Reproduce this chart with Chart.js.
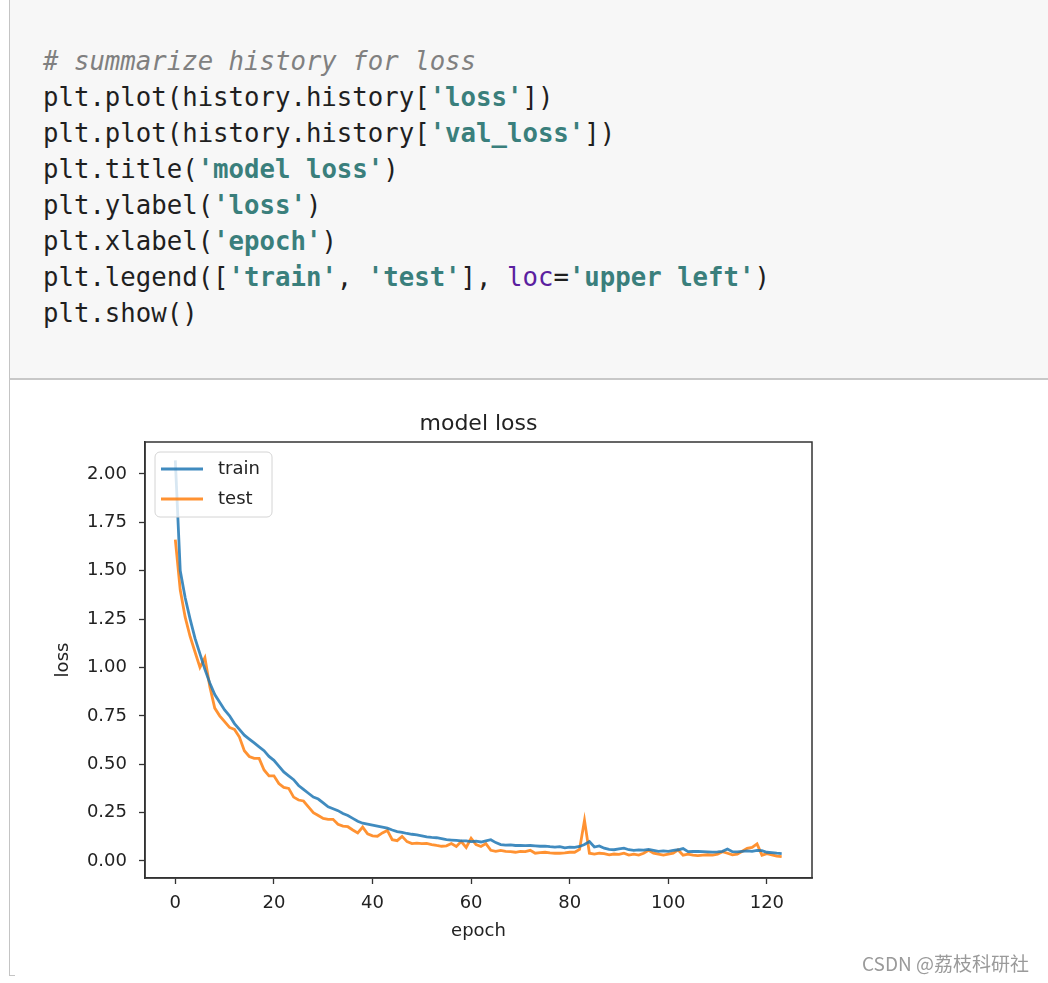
<!DOCTYPE html>
<html><head><meta charset="utf-8">
<script src="https://cdn.jsdelivr.net/npm/chart.js@4"></script>
<style>
html,body{margin:0;padding:0;background:#fff;width:1048px;height:983px;overflow:hidden;position:relative}
#code{position:absolute;left:9px;top:0;width:1039px;height:378px;background:#f7f7f7;border-left:1px solid #c4c4c4;border-bottom:2px solid #c8c8c8}
pre{margin:0;position:absolute;left:33px;top:43px;font-family:"DejaVu Sans Mono",monospace;font-size:25.7px;line-height:36px;color:#1f1f1f}
.c{color:#808080;font-style:italic}
.s{color:#3a7f7c;font-weight:bold}
.k{color:#5b1fa0}
#outline{position:absolute;left:9px;top:380px;width:1px;height:596px;background:#c4c4c4}
#tk{position:absolute;left:9px;top:975px;width:6px;height:1px;background:#c4c4c4}
#wm{position:absolute;left:862px;top:949px;font:19px "Noto Sans CJK SC",sans-serif;color:#9a9a9a;white-space:nowrap}
#wrap{position:absolute;left:0;top:395px;width:957px;height:560px}
</style></head>
<body>
<div id="code"><pre><span class="c"># summarize history for loss</span>
plt.plot(history.history[<span class="s">'loss'</span>])
plt.plot(history.history[<span class="s">'val_loss'</span>])
plt.title(<span class="s">'model loss'</span>)
plt.ylabel(<span class="s">'loss'</span>)
plt.xlabel(<span class="s">'epoch'</span>)
plt.legend([<span class="s">'train'</span>, <span class="s">'test'</span>], <span class="k">loc</span>=<span class="s">'upper left'</span>)
plt.show()</pre></div>
<div id="outline"></div><div id="tk"></div>
<div id="wrap"><canvas id="c" width="957" height="560"></canvas></div>
<div id="wm">CSDN @荔枝科研社</div>
<script>
const chartTitle = 'model loss';
const xLabel = 'epoch';
const yLabel = 'loss';
const seriesLabels = ['train', 'test'];
const xTickValues = [0, 20, 40, 60, 80, 100, 120];
const yTickValues = [0.00, 0.25, 0.50, 0.75, 1.00, 1.25, 1.50, 1.75, 2.00];

const trainLoss = [
2.07,1.50,1.36,1.25,1.15,1.07,0.99,0.92,0.86,0.82,
0.78,0.75,0.71,0.68,0.65,0.63,0.61,0.59,0.57,0.54,
0.52,0.49,0.46,0.44,0.42,0.39,0.37,0.35,0.33,0.32,
0.30,0.28,0.27,0.26,0.245,0.235,0.22,0.205,0.195,0.19,
0.185,0.18,0.175,0.17,0.16,0.152,0.148,0.142,0.138,0.135,
0.13,0.125,0.122,0.12,0.115,0.11,0.108,0.106,0.104,0.104,
0.10,0.102,0.098,0.104,0.11,0.095,0.085,0.082,0.083,0.08,
0.081,0.079,0.08,0.078,0.076,0.077,0.074,0.072,0.074,0.068,
0.072,0.07,0.075,0.085,0.10,0.072,0.078,0.066,0.06,0.058,
0.062,0.066,0.058,0.055,0.057,0.056,0.06,0.055,0.05,0.052,
0.05,0.055,0.058,0.064,0.048,0.05,0.049,0.048,0.047,0.046,
0.047,0.05,0.062,0.048,0.047,0.05,0.052,0.05,0.055,0.053,
0.045,0.043,0.04,0.038];

const testLoss = [
1.66,1.40,1.26,1.16,1.08,1.00,1.05,0.90,0.79,0.75,
0.72,0.69,0.68,0.64,0.57,0.54,0.53,0.53,0.47,0.44,
0.44,0.40,0.38,0.375,0.33,0.315,0.31,0.28,0.25,0.235,
0.22,0.215,0.215,0.19,0.18,0.177,0.16,0.145,0.175,0.14,
0.13,0.128,0.145,0.158,0.11,0.105,0.127,0.10,0.09,0.092,
0.09,0.091,0.085,0.08,0.076,0.078,0.09,0.075,0.10,0.07,
0.117,0.085,0.075,0.09,0.055,0.05,0.055,0.05,0.048,0.045,
0.05,0.048,0.055,0.04,0.043,0.045,0.042,0.04,0.04,0.042,
0.045,0.045,0.06,0.21,0.04,0.035,0.04,0.038,0.032,0.036,
0.034,0.04,0.03,0.035,0.03,0.04,0.055,0.04,0.035,0.03,
0.035,0.04,0.057,0.03,0.035,0.03,0.028,0.03,0.032,0.03,
0.035,0.048,0.04,0.032,0.035,0.05,0.065,0.07,0.088,0.03,
0.038,0.032,0.025,0.022];

const seriesColors = ['rgba(31,119,180,0.85)', 'rgba(255,127,14,0.85)'];
const FONT = 'DejaVu Sans';
const TXT = '#222222';

const framePlugin = {
  id: 'frame',
  afterDatasetsDraw(chart) {
    const {ctx, chartArea: a} = chart;
    ctx.save();
    ctx.strokeStyle = '#333333';
    ctx.lineWidth = 1.5;
    ctx.strokeRect(a.left, a.top, a.right - a.left, a.bottom - a.top);
    ctx.restore();
  }
};

const titlePlugin = {
  id: 'axTitle',
  afterDraw(chart) {
    const {ctx, chartArea: a} = chart;
    ctx.save();
    ctx.font = '22px "' + FONT + '"';
    ctx.fillStyle = TXT;
    ctx.textAlign = 'center';
    ctx.textBaseline = 'middle';
    ctx.fillText(chartTitle, (a.left + a.right) / 2, a.top - 18);
    ctx.restore();
  }
};

const legendPlugin = {
  id: 'mplLegend',
  afterDatasetsDraw(chart) {
    const {ctx, chartArea: a} = chart;
    const x0 = a.left + 10, y0 = a.top + 10, w = 117, h = 65;
    ctx.save();
    ctx.beginPath();
    ctx.roundRect(x0, y0, w, h, 5);
    ctx.fillStyle = 'rgba(255,255,255,0.8)';
    ctx.fill();
    ctx.strokeStyle = '#d4d4d4';
    ctx.lineWidth = 1;
    ctx.stroke();
    ctx.font = '18px "' + FONT + '"';
    ctx.textBaseline = 'middle';
    chart.data.datasets.forEach((ds, i) => {
      const yy = y0 + 17 + i * 30;
      ctx.beginPath();
      ctx.moveTo(x0 + 6, yy);
      ctx.lineTo(x0 + 48, yy);
      ctx.strokeStyle = ds.borderColor;
      ctx.lineWidth = 2.8;
      ctx.stroke();
      ctx.fillStyle = TXT;
      ctx.fillText(ds.label, x0 + 63, yy);
    });
    ctx.restore();
  }
};

const mk = (arr) => arr.map((v, i) => ({x: i, y: v}));

new Chart(document.getElementById('c'), {
  type: 'line',
  data: {
    datasets: [
      {label: seriesLabels[0], data: mk(trainLoss), borderColor: seriesColors[0], borderWidth: 2.8, pointRadius: 0, tension: 0, fill: false},
      {label: seriesLabels[1], data: mk(testLoss), borderColor: seriesColors[1], borderWidth: 2.8, pointRadius: 0, tension: 0, fill: false}
    ]
  },
  options: {
    responsive: false,
    animation: false,
    layout: {padding: {left: 0, right: 145, top: 47, bottom: 0}},
    plugins: {
      legend: {display: false},
      tooltip: {enabled: false},
      title: {display: false}
    },
    scales: {
      x: {
        type: 'linear', min: -6.15, max: 129.15,
        afterBuildTicks: s => { s.ticks = xTickValues.map(v => ({value: v})); },
        afterFit: s => { s.height = 77; },
        grid: {display: true, drawOnChartArea: false, drawTicks: true, tickLength: 6, tickColor: '#333', tickWidth: 1.3},
        border: {display: true, color: '#333', width: 1.5},
        ticks: {color: TXT, font: {family: FONT, size: 18}, padding: 9, maxRotation: 0, autoSkip: false, callback: v => String(v)},
        title: {display: true, text: xLabel, color: TXT, font: {family: FONT, size: 18}, padding: {top: 0, bottom: 13}}
      },
      y: {
        type: 'linear', min: -0.088, max: 2.165,
        afterBuildTicks: s => { s.ticks = yTickValues.map(v => ({value: v})); },
        afterFit: s => { s.width = 145; },
        grid: {display: true, drawOnChartArea: false, drawTicks: true, tickLength: 6, tickColor: '#333', tickWidth: 1.3},
        border: {display: true, color: '#333', width: 1.5},
        ticks: {color: TXT, font: {family: FONT, size: 18}, padding: 12, autoSkip: false, callback: v => Number(v).toFixed(2)},
        title: {display: true, text: yLabel, color: TXT, font: {family: FONT, size: 18}, padding: {top: 53, bottom: 0}}
      }
    }
  },
  plugins: [framePlugin, legendPlugin, titlePlugin]
});
</script>
</body></html>
